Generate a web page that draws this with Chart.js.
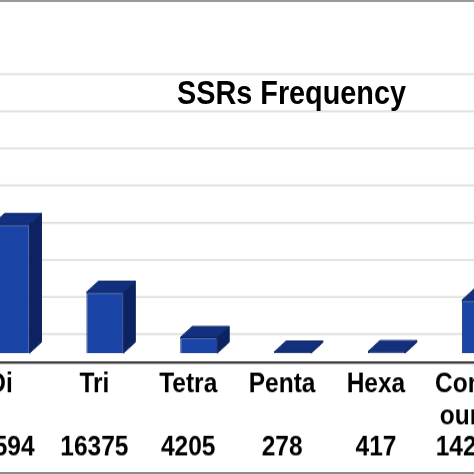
<!DOCTYPE html>
<html>
<head>
<meta charset="utf-8">
<title>SSRs Frequency</title>
<script src="https://cdn.jsdelivr.net/npm/chart.js@4.4.1/dist/chart.umd.min.js"></script>
<style>
    html, body { margin: 0; padding: 0; background: #fff; overflow: hidden; }
    #frame { position: absolute; left: 0; top: 0; width: 474px; height: 474px; overflow: hidden; }
    /* the reference picture is a bit taller than wide, so stretch everything vertically */
    #stretch { position: absolute; left: 0; top: 0; width: 474px; height: 426px; transform: scaleY(1.15); transform-origin: 0 0; }
    #wrap { position: absolute; left: -36.5px; top: 0; width: 564px; height: 426px; }
    #title { position: absolute; left: 0; top: 66px; width: 583px; text-align: center;
             font: bold 28.8px "Liberation Sans", Arial, sans-serif; line-height: 1; color: #000; }
    #topline { position: absolute; left: 0; top: 0; width: 474px; height: 2px; background: #9a9a9a; }
    #bottomband { position: absolute; left: 0; top: 472px; width: 474px; height: 2px; background: #8c8c8c; }
</style>
</head>
<body>
<div id="frame">
    <div id="stretch">
        <div id="wrap"><canvas id="ssr-chart" width="564" height="426"></canvas></div>
        <div id="title">SSRs Frequency</div>
    </div>
    <div id="topline"></div>
    <div id="bottomband"></div>
</div>
<script>
// Data
const categories = ['Di', 'Tri', 'Tetra', 'Penta', 'Hexa', 'Compound'];
const values = [34594, 16375, 4205, 278, 417, 14220];
const yTicks = [0, 10000, 20000, 30000, 40000, 50000, 60000, 70000];

// Look
const frontColor = '#1a44a6';
const topColor = '#13307f';
const sideColor = '#0c2261';
const edgeColor = '#0e2766';
const depthX = 12;     // 3D depth of the bars
const depthY = 9.6;
const wallLift = 16.5; // gridlines sit on the back wall

// Long names wrap in the data table like in Excel
function wrapName(name) {
    return name.length > 6 ? [name.slice(0, 4), name.slice(4)] : [name, ''];
}

// Axis labels = category row + value row
const labels = categories.map((c, i) => [...wrapName(c), String(values[i])]);

// Back wall gridlines and the data table line
const wallPlugin = {
    id: 'wall',
    beforeDatasetsDraw(chart) {
        const ctx = chart.ctx;
        const y = chart.scales.y;
        ctx.save();
        ctx.strokeStyle = '#dcdcdc';
        ctx.lineWidth = 1.5;
        yTicks.forEach(v => {
            const py = y.getPixelForValue(v) - wallLift;
            ctx.beginPath();
            ctx.moveTo(0, py);
            ctx.lineTo(chart.width, py);
            ctx.stroke();
        });
        // table top line
        const base = y.getPixelForValue(0) + 8.2;
        ctx.strokeStyle = '#2b2b2b';
        ctx.lineWidth = 2;
        ctx.beginPath();
        ctx.moveTo(0, base);
        ctx.lineTo(chart.width, base);
        ctx.stroke();
        ctx.restore();
    }
};

// Top and side faces of each bar
const bar3dPlugin = {
    id: 'bar3d',
    afterDatasetsDraw(chart) {
        const ctx = chart.ctx;
        const meta = chart.getDatasetMeta(0);
        ctx.save();
        ctx.lineWidth = 1;
        ctx.strokeStyle = edgeColor;
        meta.data.forEach(bar => {
            const p = bar.getProps(['x', 'y', 'base', 'width'], true);
            const l = p.x - p.width / 2;
            const r = p.x + p.width / 2;

            // top
            ctx.fillStyle = topColor;
            ctx.beginPath();
            ctx.moveTo(l, p.y);
            ctx.lineTo(l + depthX, p.y - depthY);
            ctx.lineTo(r + depthX, p.y - depthY);
            ctx.lineTo(r, p.y);
            ctx.closePath();
            ctx.fill();
            ctx.stroke();

            // side
            ctx.fillStyle = sideColor;
            ctx.beginPath();
            ctx.moveTo(r, p.y);
            ctx.lineTo(r + depthX, p.y - depthY);
            ctx.lineTo(r + depthX, p.base - depthY);
            ctx.lineTo(r, p.base);
            ctx.closePath();
            ctx.fill();
            ctx.stroke();
        });
        ctx.restore();
    }
};

const ctx = document.getElementById('ssr-chart').getContext('2d');

new Chart(ctx, {
    type: 'bar',
    data: {
        labels: labels,
        datasets: [{
            data: values,
            backgroundColor: frontColor,
            borderColor: edgeColor,
            borderWidth: 1,
            barPercentage: 37 / 94,
            categoryPercentage: 1
        }]
    },
    options: {
        responsive: false,
        animation: false,
        layout: {
            padding: { top: 80.9, bottom: 9.5, left: 0, right: 0 }
        },
        plugins: {
            legend: { display: false },
            tooltip: { enabled: false }
        },
        scales: {
            x: {
                grid: { display: false, drawTicks: false },
                border: { display: false },
                ticks: {
                    color: '#000',
                    padding: 13,
                    labelOffset: -10.5,
                    autoSkip: false,
                    maxRotation: 0,
                    font: {
                        family: '"Liberation Sans", Arial, sans-serif',
                        size: 24.5,
                        weight: 'bold',
                        lineHeight: 1.135
                    }
                }
            },
            y: {
                display: false,
                min: 0,
                max: 70000,
                ticks: { stepSize: 10000 }
            }
        }
    },
    plugins: [wallPlugin, bar3dPlugin]
});
</script>
</body>
</html>
